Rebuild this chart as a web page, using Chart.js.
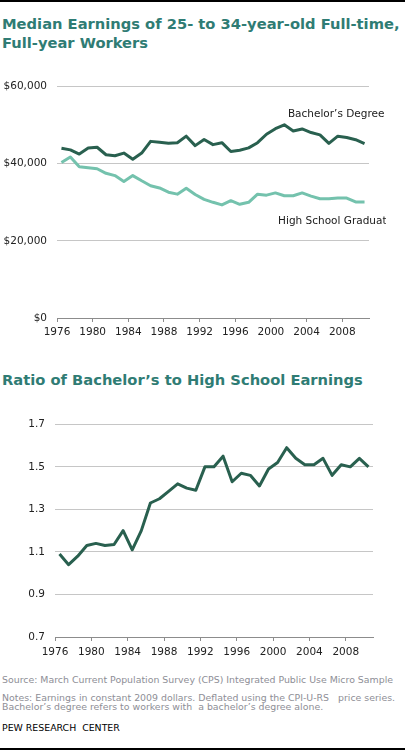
<!DOCTYPE html>
<html>
<head>
<meta charset="utf-8">
<script src="https://cdn.jsdelivr.net/npm/chart.js@4.4.1/dist/chart.umd.min.js"></script>
<style>
  body { margin: 0; width: 405px; height: 750px; position: relative; background: #fff; overflow: hidden; }
  .rule { position: absolute; left: 0; width: 405px; height: 2px; background: #000; }
  .title { position: absolute; left: 2px; font: bold 14.7px/19px "DejaVu Sans"; color: #2f7c74; white-space: nowrap; }
  .note { position: absolute; left: 2px; font: 9.4px/9px "DejaVu Sans"; color: #8e8e96; white-space: pre; }
  .box { position: absolute; left: 0; }
</style>
</head>
<body>
<div class="rule" style="top:0"></div>
<div class="title" style="top:14px">Median Earnings of 25- to 34-year-old Full-time,<br>Full-year Workers</div>
<div class="box" style="top:70px"><canvas id="earnings" width="386" height="275"></canvas></div>
<div class="title" style="top:370px">Ratio of Bachelor’s to High School Earnings</div>
<div class="box" style="top:408px"><canvas id="ratio" width="405" height="258"></canvas></div>
<div class="note" style="top:675px">Source: March Current Population Survey (CPS) Integrated Public Use Micro Sample</div>
<div class="note" style="top:693px">Notes: Earnings in constant 2009 dollars. Deflated using the CPI-U-RS   price series.
Bachelor’s degree refers to workers with  a bachelor’s degree alone.</div>
<div class="note" style="top:723px;color:#000">PEW RESEARCH  CENTER</div>
<div class="rule" style="top:748px"></div>
<script>
var years = [1976, 1977, 1978, 1979, 1980, 1981, 1982, 1983, 1984, 1985, 1986, 1987,
  1988, 1989, 1990, 1991, 1992, 1993, 1994, 1995, 1996, 1997, 1998, 1999, 2000,
  2001, 2002, 2003, 2004, 2005, 2006, 2007, 2008, 2009, 2010];
var bachelors = [43970, 43540, 42450, 44000, 44220, 42280, 42030, 42700, 41100, 42700,
  45740, 45490, 45230, 45400, 47090, 44640, 46240, 44890, 45400, 43120, 43460, 44050,
  45400, 47590, 49030, 50040, 48440, 48950, 48020, 47430, 45230, 47090, 46750, 46160, 45150];
var highSchool = [40250, 41690, 39160, 38900, 38650, 37470, 36880, 35360, 36880, 35530,
  34260, 33670, 32570, 32070, 33590, 31980, 30720, 29960, 29280, 30380, 29450, 29960,
  32070, 31810, 32400, 31650, 31650, 32400, 31560, 30890, 30890, 31050, 31050, 30040, 30040];
var ratio = [1.09, 1.04, 1.08, 1.13, 1.14, 1.13, 1.135, 1.20, 1.11, 1.20, 1.33, 1.35,
  1.385, 1.42, 1.40, 1.39, 1.50, 1.50, 1.55, 1.43, 1.47, 1.46, 1.41, 1.49, 1.52, 1.59,
  1.54, 1.51, 1.51, 1.54, 1.46, 1.51, 1.50, 1.54, 1.50];
var yearTicks = [1976, 1980, 1984, 1988, 1992, 1996, 2000, 2004, 2008];
var earningsTicks = [0, 20000, 40000, 60000];
var ratioTicks = [0.7, 0.9, 1.1, 1.3, 1.5, 1.7];

var darkGreen = "#29604f";
var lightGreen = "#74c2ad";
var tickFont = { family: "DejaVu Sans", size: 10.5 };

// annual values plotted mid-year so the year ticks sit on the year boundaries
function points(values) {
  return years.map(function(yr, i) { return { x: yr + 0.5, y: values[i] }; });
}

function xAxis(height, pad) {
  return {
    type: "linear",
    min: years[0],
    max: years[years.length - 1] + 1,
    afterBuildTicks: function(s) { s.ticks = yearTicks.map(function(v) { return { value: v }; }); },
    afterFit: function(s) { s.height = height; },
    ticks: { font: tickFont, color: "#222", padding: pad, maxRotation: 0, autoSkip: false,
      callback: function(v) { return String(v); } },
    grid: { drawOnChartArea: false, drawTicks: true, tickLength: 4, color: "#8c8c8c" },
    border: { display: true, color: "#8c8c8c", width: 1 }
  };
}

function yAxis(min, max, list, width, fmt) {
  return {
    min: min,
    max: max,
    afterBuildTicks: function(s) { s.ticks = list.map(function(v) { return { value: v }; }); },
    afterFit: function(s) { s.width = width; },
    ticks: { font: tickFont, color: "#222", padding: 10, callback: fmt },
    grid: { drawTicks: false, color: "#c6c6c6", lineWidth: 1 },
    border: { display: false }
  };
}

var lineLabels = {
  id: "lineLabels",
  afterDatasetsDraw: function(chart, args, opts) {
    var ctx = chart.ctx, x = chart.scales.x, y = chart.scales.y;
    ctx.save();
    ctx.font = "10.5px 'DejaVu Sans'";
    ctx.fillStyle = "#1a1a1a";
    ctx.textBaseline = "middle";
    opts.items.forEach(function(it) {
      ctx.fillText(it.text, x.getPixelForValue(it.year), y.getPixelForValue(it.value));
    });
    ctx.restore();
  }
};

new Chart(document.getElementById("earnings"), {
  type: "line",
  data: {
    datasets: [
      { label: "Bachelor’s Degree", data: points(bachelors), borderColor: darkGreen, borderWidth: 3 },
      { label: "High School Graduate", data: points(highSchool), borderColor: lightGreen, borderWidth: 3 }
    ]
  },
  options: {
    responsive: false,
    animation: false,
    elements: { point: { radius: 0 }, line: { tension: 0, borderJoinStyle: "round" } },
    layout: { padding: { top: 10, right: 17, left: 0, bottom: 0 } },
    scales: {
      x: xAxis(27, 4),
      y: yAxis(0, 60000, earningsTicks, 57, function(v) { return "$" + v.toLocaleString("en-US"); })
    },
    plugins: {
      legend: { display: false },
      tooltip: { enabled: false },
      lineLabels: { items: [
        { text: "Bachelor’s Degree", year: 2001.9, value: 52700 },
        { text: "High School Graduate", year: 2000.8, value: 25060 }
      ] }
    }
  },
  plugins: [lineLabels]
});

new Chart(document.getElementById("ratio"), {
  type: "line",
  data: {
    datasets: [
      { label: "Ratio", data: points(ratio), borderColor: darkGreen, borderWidth: 3 }
    ]
  },
  options: {
    responsive: false,
    animation: false,
    elements: { point: { radius: 0 }, line: { tension: 0, borderJoinStyle: "round" } },
    layout: { padding: { top: 10, right: 32, left: 0, bottom: 0 } },
    scales: {
      x: xAxis(29, 5),
      y: yAxis(0.7, 1.7, ratioTicks, 55, function(v) { return v.toFixed(1); })
    },
    plugins: { legend: { display: false }, tooltip: { enabled: false } }
  }
});
</script>
</body>
</html>
